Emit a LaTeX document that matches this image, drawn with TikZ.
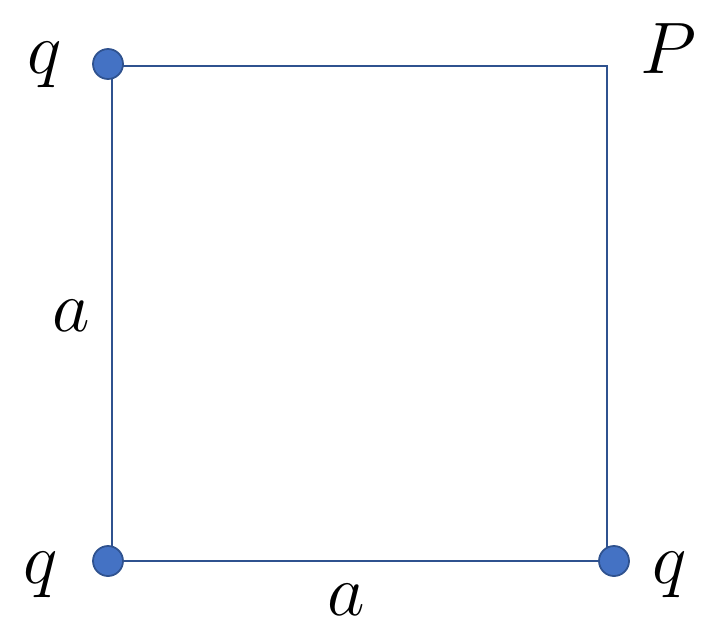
\documentclass[tikz,border=0pt]{standalone}
\usepackage{amsmath}
\usepackage{tikz}
\definecolor{chargefill}{RGB}{68,114,196}
\definecolor{chargeline}{RGB}{47,82,143}
\begin{document}
\begin{tikzpicture}[x=0.01cm,y=-0.01cm,
        charge node/.style={circle,draw=chargeline,fill=chargefill,line width=0.5pt,
          minimum size=0.3cm,inner sep=0pt},
        label node/.style={anchor=base,inner sep=0pt,font=\fontsize{20}{24}\selectfont},
        side/.style={draw=chargeline,line width=0.6pt}]
    \useasboundingbox (0,0) rectangle (712,639);

    % Corners
    \coordinate (c1) at (112,66);
    \coordinate (c2) at (607,66);
    \coordinate (c3) at (607,561);
    \coordinate (c4) at (112,561);

    % Square
    \path[side] (c1) -- (c2) -- (c3) -- (c4) -- cycle;

    % Charges
    \node[charge node] (q1) at (108,64) {};
    \node[charge node] (q3) at (614,561) {};
    \node[charge node] (q4) at (108,561) {};

    % Labels
    \node[label node] (l1) at (45,73) {$q$};
    \node[label node] (l2) at (668,73) {$P$};
    \node[label node] (l3) at (670,583) {$q$};
    \node[label node] (l4) at (41,583) {$q$};
    \node[label node] (la) at (71,331) {$a$};
    \node[label node] (lb) at (346,615) {$a$};

\end{tikzpicture}
\end{document}
